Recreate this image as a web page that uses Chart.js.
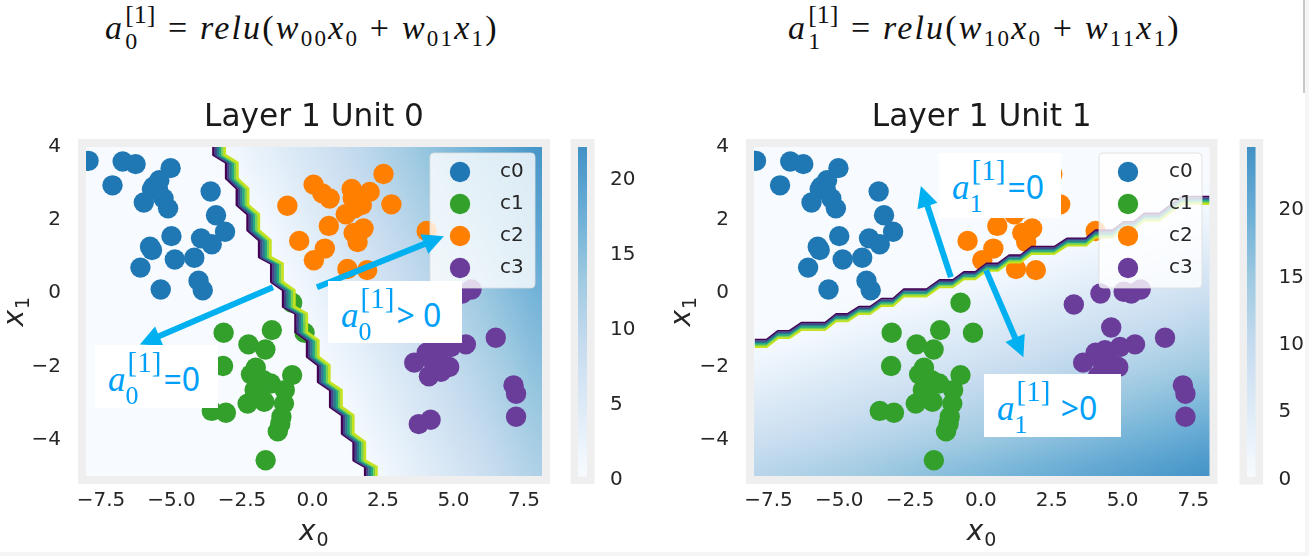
<!DOCTYPE html>
<html><head><meta charset="utf-8">
<script src="https://cdn.jsdelivr.net/npm/chart.js@4"></script>
<style>
html,body{margin:0;padding:0;background:#fff;width:1309px;height:556px;overflow:hidden}
canvas{position:absolute;display:block}
.eq{position:absolute;white-space:nowrap;font-family:"Liberation Serif",serif;color:#111;font-size:34px;line-height:40px;letter-spacing:2.2px}
.eq i{font-style:italic}
.eq sub{font-size:23px;vertical-align:-7px;line-height:0;font-style:normal}
.st{display:inline-block;position:relative;vertical-align:baseline;width:33px;height:1px}
.st b{position:absolute;font-weight:normal;left:1px;top:-35px;font-size:26px;line-height:24px;letter-spacing:0}
.st u{position:absolute;text-decoration:none;left:1px;top:-9px;font-size:24px;line-height:24px}
.box{position:absolute;background:#fff;color:#00a0f8;font-family:"Liberation Serif",serif;font-size:35px;line-height:40px;white-space:nowrap}
.box span.t{position:absolute;top:14px;left:13px}
.box .st{width:38px}
.box .st b{font-size:29px;top:-43px;line-height:30px;left:2px}
.box .st u{font-size:26px;top:-8px;line-height:28px;left:0}
.box .v{font-family:"Noto Sans",sans-serif;font-size:32px;letter-spacing:0}
.rule-b{position:absolute;left:0;top:552px;width:1309px;height:4px;background:#f4f5f7}
.rule-r{position:absolute;left:1304.5px;top:0;width:5px;height:556px;background:#f4f5f7}
.rule-t{position:absolute;left:1303px;top:0;width:1.5px;height:93px;background:#c8c8c8}
</style></head>
<body>
<div class="rule-b"></div><div class="rule-r"></div><div class="rule-t"></div>
<canvas id="c1" width="560" height="471" style="left:0;top:85px"></canvas>
<canvas id="b1" width="80" height="370" style="left:560px;top:130px"></canvas>
<canvas id="c2" width="568" height="471" style="left:660px;top:85px"></canvas>
<canvas id="b2" width="76" height="370" style="left:1228px;top:130px"></canvas>

<div class="eq" style="left:105px;top:8px"><i>a</i><span class="st"><b>[1]</b><u>0</u></span> = <i>relu</i>(<i>w</i><sub>00</sub><i>x</i><sub>0</sub> + <i>w</i><sub>01</sub><i>x</i><sub>1</sub>)</div>
<div class="eq" style="left:788px;top:8px"><i>a</i><span class="st"><b>[1]</b><u>1</u></span> = <i>relu</i>(<i>w</i><sub>10</sub><i>x</i><sub>0</sub> + <i>w</i><sub>11</sub><i>x</i><sub>1</sub>)</div>

<div class="box" style="left:328px;top:281px;width:134px;height:62px"><span class="t"><i>a</i><span class="st"><b>[1]</b><u>0</u></span><span class="v">&gt; 0</span></span></div>
<div class="box" style="left:95px;top:345px;width:123px;height:63px"><span class="t"><i>a</i><span class="st"><b>[1]</b><u>0</u></span><span class="v">=0</span></span></div>
<div class="box" style="left:939px;top:153px;width:122px;height:65px"><span class="t"><i>a</i><span class="st"><b>[1]</b><u>1</u></span><span class="v">=0</span></span></div>
<div class="box" style="left:984px;top:374px;width:137px;height:63px"><span class="t"><i>a</i><span class="st"><b>[1]</b><u>1</u></span><span class="v">&nbsp;&gt;0</span></span></div>

<script>
const classNames = ['c0','c1','c2','c3'];
const classColors = ['#1f78b4','#33a02c','#ff7f00','#6a3d9a'];
const c0x = [-7.94,-6.73,-6.27,-7.09,-5.03,-5.43,-5.64,-5.69,-5.28,-5.98,-5.12,-3.61,-3.42,-3.10,-5.00,-3.95,-3.57,-5.76,-5.69,-4.19,-4.88,-6.10,-5.38,-4.04,-3.89,-5.47];
const c0y = [3.62,3.60,3.53,2.95,3.42,3.09,2.91,2.84,2.59,2.48,2.32,2.78,2.13,1.68,1.56,1.50,1.34,1.27,1.18,0.97,0.92,0.70,0.10,0.34,0.08,2.82];
const c1x = [-0.72,-3.15,-1.44,-2.27,-1.67,-0.28,-3.17,-2.01,-2.18,-0.72,-1.48,-1.93,-0.98,-2.30,-1.71,-1.01,-1.10,-3.57,-3.07,-1.23,-1.14,-1.66,-2.05,-1.74];
const c1y = [-0.26,-1.08,-1.01,-1.40,-1.54,-1.08,-1.99,-2.04,-2.22,-2.24,-2.47,-2.58,-2.65,-3.02,-2.97,-3.02,-3.38,-3.22,-3.27,-3.78,-3.57,-4.57,-2.65,-2.38];
const c2x = [2.52,0.04,0.35,0.61,1.39,2.03,1.43,1.75,2.80,-0.89,1.18,1.49,0.58,1.81,1.46,1.60,-0.47,0.44,0.05,1.24,1.94,4.05];
const c2y = [3.26,2.97,2.73,2.59,2.85,2.77,2.59,2.41,2.43,2.39,2.16,2.32,1.84,1.77,1.65,1.40,1.43,1.22,0.90,0.66,0.63,1.70];
const c3x = [3.28,4.22,5.04,5.31,5.64,4.60,6.50,5.44,4.91,4.38,4.05,3.61,4.24,4.77,4.13,4.56,4.85,4.47,7.13,7.22,7.22,3.77,4.19];
const c3y = [-0.31,-0.01,0.04,-0.01,0.10,-0.94,-1.22,-1.40,-1.47,-1.56,-1.63,-1.90,-1.83,-2.02,-2.27,-2.15,-2.02,-1.74,-2.52,-2.75,-3.38,-3.58,-3.46];

const xTicks = [-7.5,-5,-2.5,0,2.5,5,7.5];
const xTickLabels = ['\u22127.5','\u22125.0','\u22122.5','0.0','2.5','5.0','7.5'];
const yTicks = [-4,-2,0,2,4];
const yTickLabels = ['\u22124','\u22122','0','2','4'];

const bar0Ticks = [0,5,10,15,20];
const bar1Ticks = [0,5,10,15,20];

// activation read at x0 = -8..8 (columns), x1 = 4..-5 (rows)
const unit0Grid = [
[0,0,0,0,0,0.8,2.7,4.5,6.4,8.3,10.2,12.1,14,15.9,17.8,19.7,21.5],
[0,0,0,0,0,0,1.5,3.4,5.3,7.2,9.1,11,12.9,14.8,16.7,18.6,20.4],
[0,0,0,0,0,0,0.4,2.3,4.2,6.1,8,9.8,11.7,13.6,15.5,17.4,19.3],
[0,0,0,0,0,0,0,1.1,3,4.9,6.8,8.7,10.6,12.5,14.4,16.3,18.2],
[0,0,0,0,0,0,0,0,1.9,3.8,5.7,7.6,9.5,11.4,13.3,15.2,17],
[0,0,0,0,0,0,0,0,0.8,2.7,4.6,6.5,8.4,10.3,12.2,14.1,15.9],
[0,0,0,0,0,0,0,0,0,1.5,3.4,5.3,7.2,9.1,11,12.9,14.8],
[0,0,0,0,0,0,0,0,0,0.4,2.3,4.2,6.1,8,9.9,11.8,13.7],
[0,0,0,0,0,0,0,0,0,0,1.2,3.1,5,6.9,8.8,10.7,12.6],
[0,0,0,0,0,0,0,0,0,0,0.1,2,3.9,5.8,7.7,9.6,11.4]];
const unit1Grid = [
[0,0,0,0,0,0,0,0,0,0,0,0,0,0,0,0,0],
[0,0,0,0,0,0,0,0,0,0,0,0,0,0,0,0,0],
[0,0,0,0,0,0,0,0,0,0,0,0,0,0,0.3,1.1,1.9],
[0,0,0,0,0,0,0,0,0,0,0.3,1.1,1.9,2.7,3.5,4.3,5.1],
[0,0,0,0,0,0,0.3,1.1,1.9,2.7,3.5,4.3,5.1,5.9,6.7,7.5,8.3],
[0,0,0.3,1.1,1.9,2.7,3.5,4.3,5.1,5.9,6.7,7.5,8.3,9.1,9.9,10.7,11.5],
[1.9,2.7,3.5,4.3,5.1,5.9,6.7,7.5,8.3,9.1,9.9,10.7,11.5,12.3,13.1,13.9,14.7],
[5.1,5.9,6.7,7.5,8.3,9.1,9.9,10.7,11.5,12.3,13.1,13.9,14.7,15.5,16.3,17.1,17.9],
[8.3,9.1,9.9,10.7,11.5,12.3,13.1,13.9,14.7,15.5,16.3,17.1,17.9,18.7,19.5,20.3,21.1],
[11.5,12.3,13.1,13.9,14.7,15.5,16.3,17.1,17.9,18.7,19.5,20.3,21.1,21.9,22.7,23.5,24.3]];
const gridX0 = [-8,-7,-6,-5,-4,-3,-2,-1,0,1,2,3,4,5,6,7,8];
const gridX1 = [4,3,2,1,0,-1,-2,-3,-4,-5];

const edge0x = [-3.51,-3.51,-3.06,-3.06,-2.68,-2.68,-2.30,-2.30,-1.89,-1.89,-1.46,-1.46,-1.04,-1.04,-0.60,-0.60,-0.19,-0.19,0.20,0.20,0.63,0.63,1.05,1.05,1.46,1.46,1.87,1.87];
const edge0y = [4,3.78,3.57,3.14,2.86,2.41,2.16,1.72,1.45,0.99,0.81,0.31,0.08,-0.37,-0.56,-1.06,-1.29,-1.74,-1.97,-2.43,-2.65,-3.11,-3.34,-3.84,-4.07,-4.57,-4.75,-5];
const edge1x = [-7.98,-7.56,-7.16,-6.76,-6.34,-5.50,-5.11,-4.71,-4.31,-3.91,-3.51,-3.10,-2.72,-1.92,-1.46,-0.99,-0.60,-0.20,0.20,0.60,1.00,1.40,1.79,2.59,3.05,3.71,4.05,4.65,5.04,5.40,5.77,6.30,6.70,7.10,8.07];
const edge1y = [-1.27,-1.27,-1.03,-1.03,-0.81,-0.81,-0.57,-0.57,-0.37,-0.37,-0.15,-0.15,0.11,0.11,0.36,0.36,0.58,0.58,0.81,0.81,1.04,1.04,1.27,1.27,1.50,1.50,1.72,1.72,1.95,1.95,2.18,2.18,2.41,2.64,2.64];
const levelColors = ['#440154','#414487','#2a788e','#22a884','#7ad151','#c5e21f'];
const level0Shift = [0,0.08,0.16,0.24,0.32,0.40];
const level1Shift = [0,-0.04,-0.08,-0.12,-0.16,-0.20];

const arrows0 = [[[-1.40,0.16],[-6.12,-1.40]],[[0.16,0.16],[4.66,1.56]]];
const arrows1 = [[[-1.06,0.44],[-2.12,2.93]],[[0.18,0.63],[1.50,-1.75]]];
const SPINE = '#efefef', INK = '#262626', ARROW = '#00b0f0';
const BLUES = ['#f7fbff','#deebf7','#c6dbef','#9ecae1','#6baed6','#4292c6'];
const TF = '"DejaVu Sans", sans-serif';
const TICK_SIZE = 20;

function hex(c){return [1,3,5].map(i=>parseInt(c.substr(i,2),16));}
function colorAt(t){
  t=Math.max(0,Math.min(1,t))*(BLUES.length-1);
  const i=Math.min(BLUES.length-2,Math.floor(t)),f=t-i,a=hex(BLUES[i]),b=hex(BLUES[i+1]);
  return a.map((v,k)=>Math.round(v+(b[k]-v)*f));
}
function pts(xs,ys){return xs.map((x,i)=>({x,y:ys[i]}));}

function drawVar(ctx,letter,sub){
  ctx.fillStyle=INK;ctx.textAlign='left';ctx.textBaseline='alphabetic';
  ctx.font='italic 28px '+TF;ctx.fillText(letter,-15,0);
  const w=ctx.measureText(letter).width;
  ctx.font='19px '+TF;ctx.fillText(sub,-15+w+1,6);
}

function heatPlugin(grid,vmax,arrows,legendBox,lab){
  const off=document.createElement('canvas');
  off.width=gridX0.length;off.height=gridX1.length;
  const o=off.getContext('2d'),im=o.createImageData(off.width,off.height);
  grid.forEach((row,r)=>row.forEach((v,c)=>{
    const k=(r*off.width+c)*4,rgb=colorAt(v/vmax);
    im.data[k]=rgb[0];im.data[k+1]=rgb[1];im.data[k+2]=rgb[2];im.data[k+3]=255;
  }));
  o.putImageData(im,0,0);
  return {
    id:'heat',
    beforeDraw(ch){
      const a=ch.chartArea,ctx=ch.ctx;
      ctx.save();ctx.fillStyle=SPINE;
      ctx.fillRect(a.left-8,a.top-8,a.width+16,a.height+16);ctx.restore();
    },
    beforeDatasetsDraw(ch){
      const a=ch.chartArea,ctx=ch.ctx,sx=ch.scales.x,sy=ch.scales.y;
      ctx.save();ctx.beginPath();ctx.rect(a.left,a.top,a.width,a.height);ctx.clip();
      ctx.imageSmoothingEnabled=true;ctx.imageSmoothingQuality='high';
      const x0=sx.getPixelForValue(gridX0[0]-0.5),x1=sx.getPixelForValue(gridX0[gridX0.length-1]+0.5);
      const y0=sy.getPixelForValue(gridX1[0]+0.5),y1=sy.getPixelForValue(gridX1[gridX1.length-1]-0.5);
      ctx.drawImage(off,x0,y0,x1-x0,y1-y0);
      ctx.restore();
    },
    afterDatasetsDraw(ch){
      const ctx=ch.ctx,sx=ch.scales.x,sy=ch.scales.y;
      ctx.save();
      const b=legendBox;
      ctx.beginPath();ctx.roundRect(b.x,b.y,b.w,b.h,4);
      ctx.fillStyle='rgba(255,255,255,0.8)';ctx.fill();
      ctx.strokeStyle='rgba(220,220,220,0.8)';ctx.lineWidth=1;ctx.stroke();
      classNames.forEach((n,i)=>{
        const yy=b.y+19+i*32;
        ctx.beginPath();ctx.arc(b.mx,yy,10.2,0,Math.PI*2);ctx.fillStyle=classColors[i];ctx.fill();
        ctx.fillStyle=INK;ctx.font='20px '+TF;ctx.textBaseline='middle';ctx.textAlign='left';
        ctx.fillText(n,b.tx,yy);
      });
      arrows.forEach(([p,q])=>{
        const x1=sx.getPixelForValue(p[0]),y1=sy.getPixelForValue(p[1]);
        const x2=sx.getPixelForValue(q[0]),y2=sy.getPixelForValue(q[1]);
        const ang=Math.atan2(y2-y1,x2-x1),len=Math.hypot(x2-x1,y2-y1),hl=21,hw=10.5;
        ctx.translate(x1,y1);ctx.rotate(ang);
        ctx.fillStyle=ARROW;
        ctx.fillRect(0,-3,len-hl+1,6);
        ctx.beginPath();ctx.moveTo(len,0);ctx.lineTo(len-hl,-hw);ctx.lineTo(len-hl,hw);ctx.closePath();ctx.fill();
        ctx.rotate(-ang);ctx.translate(-x1,-y1);
      });
      ctx.restore();
    },
    afterDraw(ch){
      const ctx=ch.ctx,a=ch.chartArea;
      ctx.save();
      ctx.translate(a.left+a.width/2+lab.xdx,455);drawVar(ctx,'x','0');
      ctx.restore();
      ctx.save();
      ctx.translate(lab.yx,a.top+a.height/2);ctx.rotate(-Math.PI/2);drawVar(ctx,'x','1');
      ctx.restore();
    }
  };
}

function mainChart(id,cfg){
  const datasets=[
    {label:'c0',data:pts(c0x,c0y)},{label:'c1',data:pts(c1x,c1y)},
    {label:'c2',data:pts(c2x,c2y)},{label:'c3',data:pts(c3x,c3y)}
  ].map((d,i)=>Object.assign(d,{backgroundColor:classColors[i],borderWidth:0,pointRadius:10.2,order:20,clip:0}));
  levelColors.forEach((col,i)=>{
    datasets.push({label:'level '+i,showLine:true,borderColor:col,borderWidth:cfg.lw,pointRadius:0,tension:0,order:10-i,clip:0,
      borderJoinStyle:'round',
      data:cfg.edgeX.map((x,k)=>({x:x+cfg.dx[i],y:cfg.edgeY[k]+cfg.dy[i]}))});
  });
  return new Chart(document.getElementById(id),{
    type:'scatter',
    data:{datasets},
    plugins:[heatPlugin(cfg.grid,cfg.vmax,cfg.arrows,cfg.legend,cfg.lab)],
    options:{
      responsive:false,animation:false,devicePixelRatio:1,events:[],
      layout:{autoPadding:false,padding:{left:0,right:cfg.right,top:0,bottom:0}},
      plugins:{
        legend:{display:false},tooltip:{enabled:false},
        title:{display:true,text:cfg.title,color:'#1a1a1a',fullSize:false,font:{family:TF,size:31.2,weight:'normal'},padding:{top:14,bottom:10.5}}
      },
      scales:{
        x:{type:'linear',min:cfg.xmin,max:cfg.xmax,
          grid:{display:false},border:{display:false},
          afterBuildTicks:s=>{s.ticks=xTicks.map(v=>({value:v}));},
          afterFit:s=>{s.height=80;},
          ticks:{autoSkip:false,maxRotation:0,color:INK,padding:5,font:{family:TF,size:TICK_SIZE},callback:v=>xTickLabels[xTicks.indexOf(v)]}
        },
        y:{type:'linear',min:-5,max:4,
          grid:{display:false},border:{display:false},
          afterBuildTicks:s=>{s.ticks=yTicks.map(v=>({value:v}));},
          afterFit:s=>{s.width=cfg.yw;},
          ticks:{autoSkip:false,color:INK,padding:17,font:{family:TF,size:TICK_SIZE},callback:v=>yTickLabels[yTicks.indexOf(v)]}
        }
      }
    }
  });
}

function barChart(id,vals,cfg){
  return new Chart(document.getElementById(id),{
    type:'bar',
    data:{labels:['activation'],datasets:[{data:[[cfg.low,cfg.high]],borderWidth:0,barPercentage:1,categoryPercentage:1,
      backgroundColor:c=>{
        const a=c.chart.chartArea;if(!a)return BLUES[0];
        const sy=c.chart.scales.y;
        const g=c.chart.ctx.createLinearGradient(0,sy.getPixelForValue(cfg.low),0,sy.getPixelForValue(cfg.high));
        BLUES.forEach((col,i)=>g.addColorStop(i/(BLUES.length-1),col));
        return g;
      }}]},
    plugins:[{id:'frame',beforeDraw(ch){
      const a=ch.chartArea,ctx=ch.ctx,sy=ch.scales.y,bot=sy.getPixelForValue(cfg.low);
      ctx.save();ctx.fillStyle=SPINE;ctx.fillRect(a.left-7.5,a.top-8,a.width+15,bot-a.top+16);ctx.restore();
    }}],
    options:{
      responsive:false,animation:false,devicePixelRatio:1,events:[],
      layout:{autoPadding:false,padding:{left:cfg.left,right:0,top:17,bottom:20.5}},
      plugins:{legend:{display:false},tooltip:{enabled:false},title:{display:false}},
      scales:{
        x:{display:false},
        y:{type:'linear',position:'right',min:0,max:cfg.high,
          grid:{display:false},border:{display:false},
          afterBuildTicks:s=>{s.ticks=vals.map(v=>({value:v}));},
          afterFit:s=>{s.width=cfg.cw-cfg.left-cfg.w;s.paddingTop=0;s.paddingBottom=0;},
          ticks:{autoSkip:false,color:INK,padding:15,font:{family:TF,size:TICK_SIZE},callback:v=>String(v)}
        }
      }
    }
  });
}

mainChart('c1',{title:'Layer 1 Unit 0',grid:unit0Grid,vmax:22,arrows:arrows0,xmin:-8.03,xmax:8.14,right:18,yw:86,lw:2.6,
  edgeX:edge0x,edgeY:edge0y,dx:level0Shift,dy:[0,0,0,0,0,0],lab:{xdx:0,yx:23},
  legend:{x:430,y:68,w:105,h:135,mx:460,tx:500}});
mainChart('c2',{title:'Layer 1 Unit 1',grid:unit1Grid,vmax:24.5,arrows:arrows1,xmin:-8.01,xmax:8.07,right:18.5,yw:94,lw:1.9,
  edgeX:edge1x,edgeY:edge1y,dx:[0,0,0,0,0,0],dy:level1Shift,lab:{xdx:0,yx:30},
  legend:{x:439,y:68,w:103,h:135,mx:468,tx:509}});
barChart('b1',bar0Ticks,{low:0.23,high:22.2,left:18,w:9,cw:80});
barChart('b2',bar1Ticks,{low:0.22,high:24.7,left:19,w:8.6,cw:76});
</script>
</body></html>
